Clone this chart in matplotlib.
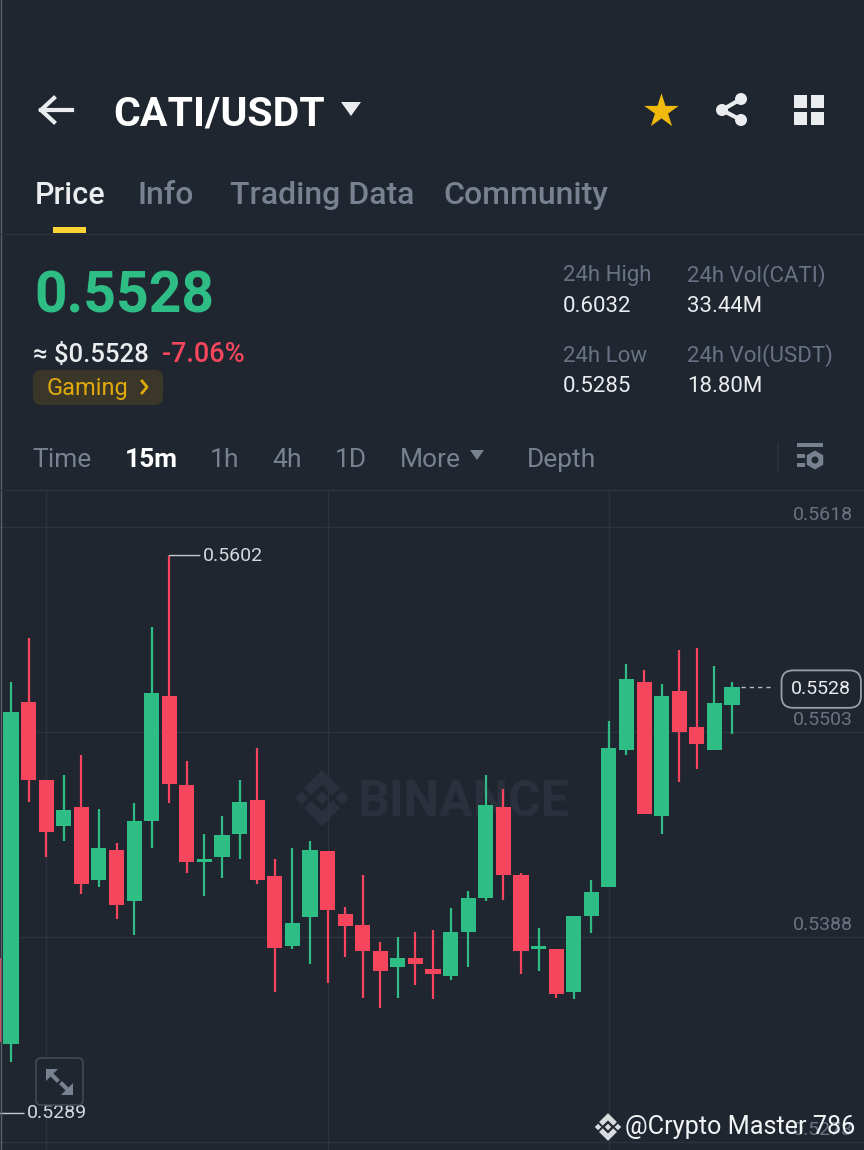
import matplotlib
matplotlib.use('Agg')
import matplotlib.pyplot as plt
from matplotlib.patches import FancyBboxPatch, Polygon, Circle, Rectangle, RegularPolygon

# candles, left to right. first one is cut by the screen edge
opens = [0.5376, 0.5328, 0.5520, 0.5476, 0.5450, 0.5461, 0.5420, 0.5437, 0.5408, 0.5453, 0.5523,
         0.5473, 0.5430, 0.5433, 0.5446, 0.5465, 0.5422, 0.5383, 0.5399, 0.5436, 0.5401, 0.5395,
         0.5380, 0.5371, 0.5376, 0.5370, 0.5366, 0.5391, 0.5410, 0.5461, 0.5423, 0.5381, 0.5381,
         0.5357, 0.5400, 0.5416, 0.5493, 0.5531, 0.5456, 0.5526, 0.5506, 0.5493, 0.5518]
closes = [0.5329, 0.5514, 0.5476, 0.5447, 0.5459, 0.5418, 0.5438, 0.5406, 0.5453, 0.5525, 0.5474,
          0.5430, 0.5432, 0.5445, 0.5464, 0.5420, 0.5382, 0.5396, 0.5437, 0.5403, 0.5394, 0.5380,
          0.5369, 0.5376, 0.5373, 0.5367, 0.5391, 0.5410, 0.5462, 0.5423, 0.5380, 0.5383, 0.5356,
          0.5400, 0.5413, 0.5494, 0.5533, 0.5457, 0.5523, 0.5503, 0.5496, 0.5519, 0.5528]
highs = [0.5380, 0.5531, 0.5556, 0.5476, 0.5479, 0.5490, 0.5460, 0.5441, 0.5463, 0.5562, 0.5602,
         0.5487, 0.5446, 0.5456, 0.5476, 0.5494, 0.5432, 0.5438, 0.5442, 0.5436, 0.5405, 0.5423,
         0.5385, 0.5388, 0.5391, 0.5392, 0.5404, 0.5414, 0.5479, 0.5471, 0.5424, 0.5393, 0.5381,
         0.5400, 0.5420, 0.5509, 0.5541, 0.5538, 0.5530, 0.5549, 0.5550, 0.5540, 0.5531]
lows = [0.5289, 0.5318, 0.5464, 0.5433, 0.5442, 0.5412, 0.5416, 0.5398, 0.5389, 0.5438, 0.5463,
        0.5424, 0.5411, 0.5421, 0.5432, 0.5418, 0.5357, 0.5381, 0.5373, 0.5362, 0.5377, 0.5354,
        0.5348, 0.5354, 0.5361, 0.5353, 0.5364, 0.5371, 0.5408, 0.5409, 0.5367, 0.5369, 0.5354,
        0.5353, 0.5390, 0.5416, 0.5490, 0.5457, 0.5446, 0.5475, 0.5482, 0.5493, 0.5502]

price_ticks = [0.5618, 0.5503, 0.5388, 0.5273]
time_ticks = [3, 19, 35]
last_price = 0.5528
max_price = 0.5602
min_price = 0.5289

tabs = ['Price', 'Info', 'Trading Data', 'Community']
tab_x = [35, 138, 230, 443]
intervals = ['Time', '15m', '1h', '4h', '1D', 'More', 'Depth']
interval_x = [32, 125, 210, 272, 335, 400, 527]
stat_labels = ['24h High', '24h Vol(CATI)', '24h Low', '24h Vol(USDT)']
stat_values = ['0.6032', '33.44M', '0.5285', '18.80M']
stat_x = [563, 687, 563, 687]
stat_y = [275, 275, 355, 355]

BG = '#1f2630'
GRID = '#2c333e'
GREEN = '#2ebd85'
RED = '#f6465d'
GREY = '#78818f'
WHITE = '#eaecef'
FONTS = ['Roboto', 'DejaVu Sans']
plt.rcParams['font.family'] = FONTS

W, H = 864, 1150
fig = plt.figure(figsize=(W / 100, H / 100), dpi=100, facecolor=BG)


def pixel_axes(z):
    a = fig.add_axes([0, 0, 1, 1], zorder=z)
    a.set_xlim(0, W)
    a.set_ylim(H, 0)
    a.axis('off')
    return a


def logo(a, cx, cy, s, color):
    top = [(-2.7, -1.5), (0, -4.2), (2.7, -1.5), (1.6, -0.4), (0, -2.0), (-1.6, -0.4)]
    a.add_patch(Polygon([(cx + s * x, cy + s * y) for x, y in top], color=color, lw=0))
    a.add_patch(Polygon([(cx + s * x, cy - s * y) for x, y in top], color=color, lw=0))
    for dx in (-3, 0, 3):
        a.add_patch(Polygon([(cx + s * (dx - 1), cy), (cx + s * dx, cy - s), (cx + s * (dx + 1), cy),
                             (cx + s * dx, cy + s)], color=color, lw=0))


# watermark goes behind the candles
back = pixel_axes(0)
back.set_facecolor(BG)
logo(back, 322, 798, 6.7, '#2b313c')
back.text(358, 802, 'BINANCE', fontsize=36, fontweight='bold', color='#2b313c', va='center')

# chart
ax = fig.add_axes([0, 0, 1, 660 / H], zorder=1)
ax.patch.set_visible(False)
ax.set_xlim(0.3745, 49.507)
ax.set_ylim(0.526851, 0.563876)
for s in ax.spines.values():
    s.set_visible(False)
ax.set_xticks(time_ticks)
ax.set_yticks(price_ticks)
ax.tick_params(length=0, labelbottom=False, labelleft=False)
ax.grid(True, color=GRID, lw=1)
ax.set_axisbelow(True)

for i in range(len(opens)):
    c = GREEN if closes[i] >= opens[i] else RED
    ax.vlines(i, lows[i], highs[i], color=c, lw=1.6, zorder=2)
    ax.bar(i, abs(closes[i] - opens[i]), bottom=min(opens[i], closes[i]), width=0.86, color=c, lw=0, zorder=3)

for p in price_ticks:
    ax.annotate(f'{p:.4f}', xy=(0.987, p), xycoords=ax.get_yaxis_transform(), xytext=(0, 8.4),
                textcoords='offset points', ha='right', va='center', fontsize=14, color='#6b7380', zorder=1)

last_i = len(closes) - 1
ax.plot([last_i + 0.5, last_i + 2.4], [last_price, last_price], color='#b7bcc4', lw=1, ls=(0, (3, 3)))
ax.annotate(f'{last_price:.4f}', xy=(0.9505, last_price), xycoords=ax.get_yaxis_transform(), xytext=(0, -1.2),
            textcoords='offset points', ha='center', va='center', fontsize=14, color=WHITE, zorder=6,
            bbox=dict(boxstyle='round,pad=0.5,rounding_size=0.6', fc=BG, ec='#9a9fa7', lw=1.3))
hi_i = highs.index(max_price)
ax.annotate(f'{max_price:.4f}', xy=(hi_i, max_price), xytext=(hi_i + 1.9, max_price), va='center', fontsize=14,
            color='#d5d8dc', arrowprops=dict(arrowstyle='-', color='#c4c7cc', lw=1, shrinkA=0, shrinkB=0))
ax.annotate(f'{min_price:.4f}', xy=(0.3745, min_price), xytext=(1.9, min_price), va='center', fontsize=14,
            color='#d5d8dc', arrowprops=dict(arrowstyle='-', color='#c4c7cc', lw=1, shrinkA=0, shrinkB=0))

# app chrome on top
ui = pixel_axes(2)


def label(x, y, s, size, color, weight='normal', ha='left'):
    ui.text(x, y + 2, s, fontsize=size, color=color, fontweight=weight, ha=ha, va='center', family=FONTS)


ui.plot([0.5, 0.5], [0, H], color='#5c626c', lw=1)
ui.plot([0, W], [234, 234], color=GRID, lw=1)
ui.plot([0, W], [490, 490], color=GRID, lw=1)

# header
ui.plot([41, 72], [110, 110], color=WHITE, lw=3)
ui.plot([54, 41, 54], [98, 110, 122], color=WHITE, lw=3, solid_joinstyle='miter')
label(113, 112, 'CATI/USDT', 29.5, 'white', 'bold')
ui.add_patch(Polygon([(341, 102), (361, 102), (351, 116)], color=WHITE, lw=0, joinstyle='round'))
ui.scatter([661], [111], marker='*', s=680, color='#f0b90b', lw=0)

ui.plot([741, 722, 741], [99, 110, 120], color=WHITE, lw=3)
for sx, sy in [(741, 99), (722, 110), (741, 120)]:
    ui.add_patch(Circle((sx, sy), 6, color=WHITE, lw=0))
for gx, gy in [(794, 95), (811, 95), (794, 112), (811, 112)]:
    ui.add_patch(Rectangle((gx, gy), 13, 13, color=WHITE, lw=0))

for n, name in enumerate(tabs):
    label(tab_x[n], 194, name, 22 if n == 0 else 23, WHITE if n == 0 else GREY, 'medium')
ui.add_patch(Rectangle((53, 227), 33, 6, color='#fcd535', lw=0))

# price block
label(34, 295, '0.5528', 41, GREEN, 'bold')
label(33, 353, '≈ $0.5528', 18.5, WHITE, 'medium')
label(162, 353, '-7.06%', 19.5, RED, 'medium')
ui.add_patch(FancyBboxPatch((38, 375), 120, 25, boxstyle='round,pad=5,rounding_size=8', fc='#3a3628', ec='none'))
label(47, 386, 'Gaming', 17, '#e0aa0e')
ui.plot([142, 147, 142], [381, 387, 393], color='#e0aa0e', lw=2)

for n, name in enumerate(stat_labels):
    label(stat_x[n], stat_y[n] - 1, name, 16, '#687282')
    label(stat_x[n], stat_y[n] + 30, stat_values[n], 16, WHITE)

# interval row
for n, name in enumerate(intervals):
    active = name == '15m'
    label(interval_x[n], 458, name, 19, 'white' if active else GREY, 'bold' if active else 'normal')
ui.add_patch(Polygon([(470, 450), (484, 450), (477, 460)], color=GREY, lw=0))
ui.plot([778, 778], [443, 470], color=GRID, lw=1.2)
ui.add_patch(Rectangle((797, 443), 26, 3.5, color=GREY, lw=0))
ui.add_patch(Rectangle((797, 454), 8, 3.5, color=GREY, lw=0))
ui.add_patch(Rectangle((797, 463), 8, 3.5, color=GREY, lw=0))
ui.add_patch(RegularPolygon((815, 460), 6, radius=9.5, color=GREY, lw=0))
ui.add_patch(Circle((815, 460), 3.5, color=BG, lw=0))

# expand button
ui.add_patch(FancyBboxPatch((39, 1061), 41, 41, boxstyle='round,pad=3,rounding_size=5', fc=BG, ec='#434a56', lw=1.2))
ui.add_patch(Polygon([(46, 1069), (58, 1069), (46, 1081)], color=GREY, lw=0))
ui.add_patch(Polygon([(73, 1095), (61, 1095), (73, 1083)], color=GREY, lw=0))
ui.plot([50, 57], [1073, 1080], color=GREY, lw=3)
ui.plot([62, 69], [1084, 1091], color=GREY, lw=3)

# repost signature
logo(ui, 608, 1127, 3.3, '#d8dadd')
label(625, 1125, '@Crypto Master 786', 18.2, '#f2f3f5')

fig.savefig('out.png', dpi=100, facecolor=BG)
